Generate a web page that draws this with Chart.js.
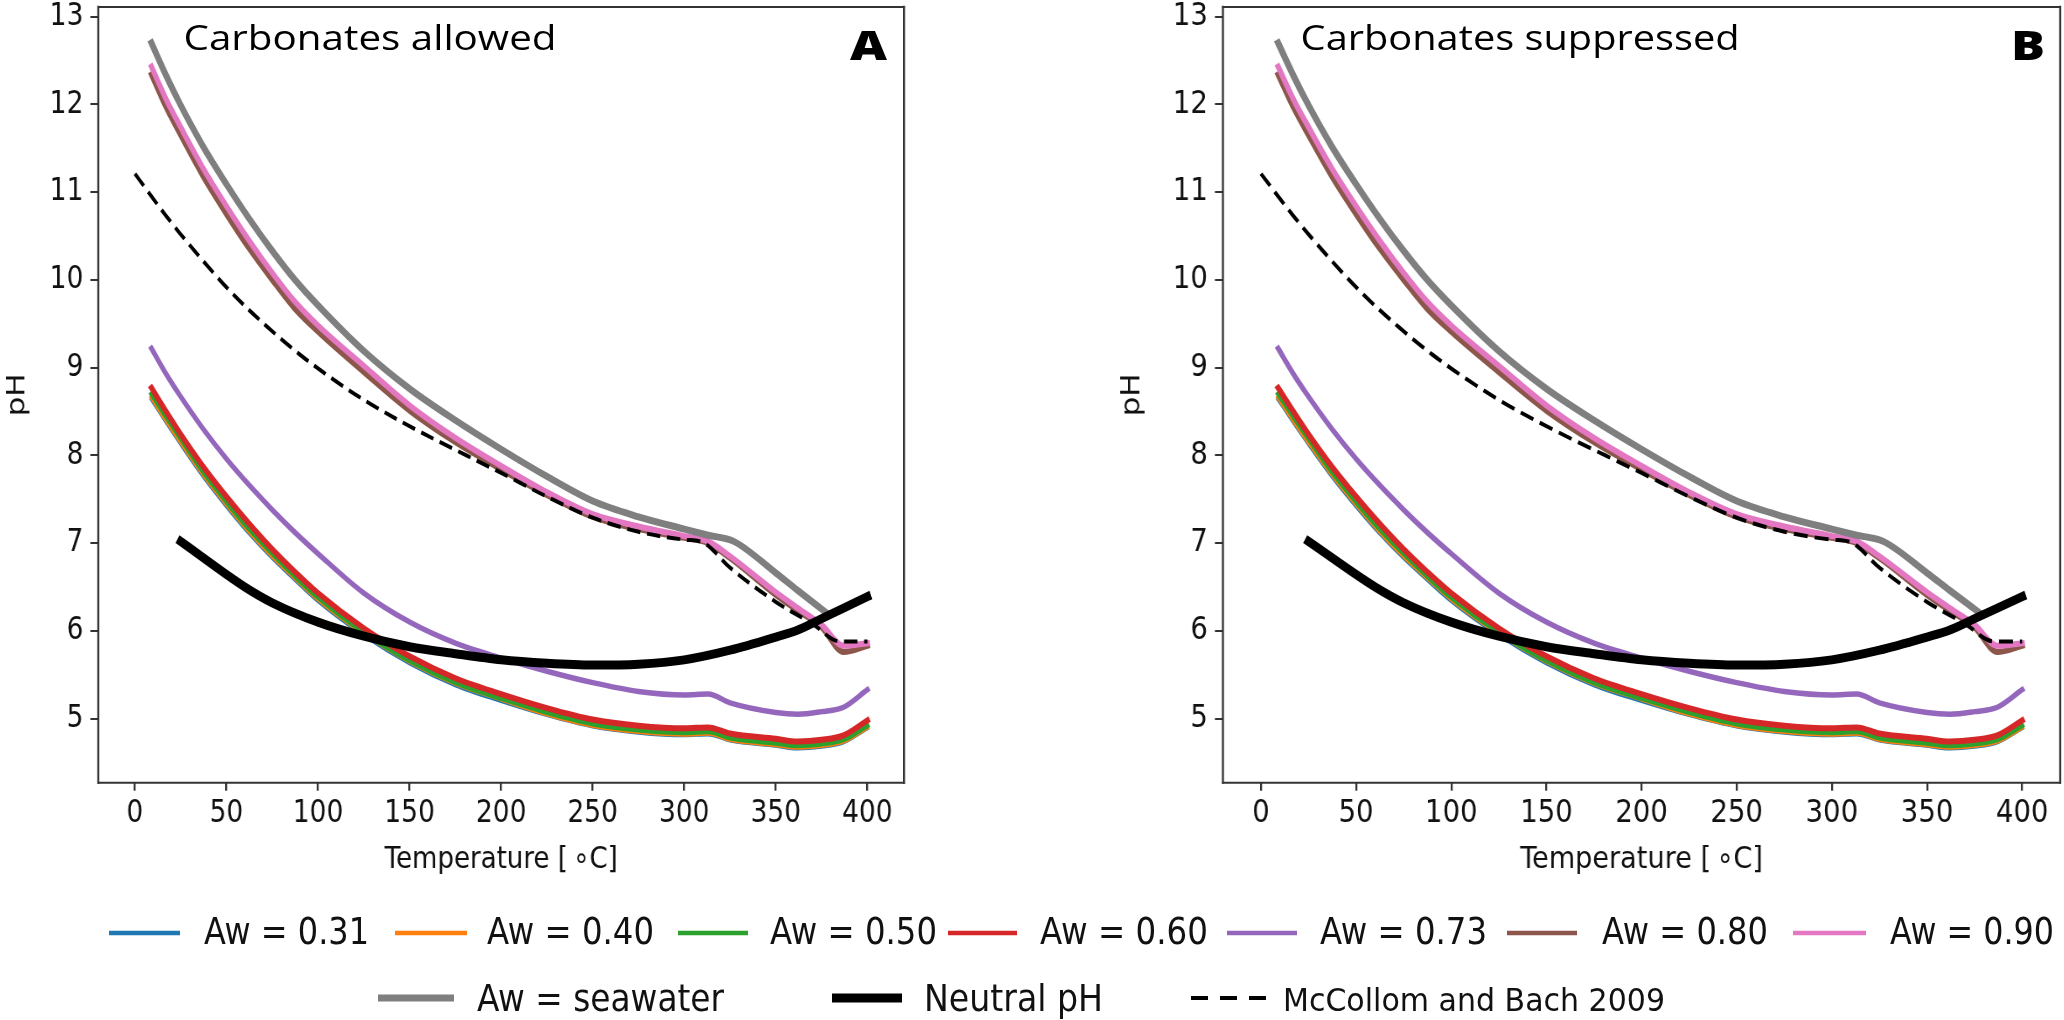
<!DOCTYPE html>
<html>
<head>
<meta charset="utf-8">
<title>pH vs temperature</title>
<script src="https://cdn.jsdelivr.net/npm/chart.js@4.4.1/dist/chart.umd.min.js"></script>
<style>
    html, body { margin: 0; padding: 0; background: #fff; }
    body { width: 2064px; height: 1020px; position: relative; overflow: hidden; }
    /* the source figure is squeezed sideways, so each panel is drawn wide and scaled back */
    .squash { position: absolute; top: 0; height: 880px; transform-origin: 0 0; }
    #overlay { position: absolute; left: 0; top: 0; pointer-events: none; }
</style>
</head>
<body>
<div class="squash" id="panelA"><canvas></canvas></div>
<div class="squash" id="panelB"><canvas></canvas></div>
<svg id="overlay" width="2064" height="1020" xmlns="http://www.w3.org/2000/svg"></svg>

<script>
// ---- Data (panels A and B plot the same curves) ----
const xTicks = [0, 50, 100, 150, 200, 250, 300, 350, 400];
const yTicks = [5, 6, 7, 8, 9, 10, 11, 12, 13];

const panelTitles = ['Carbonates allowed', 'Carbonates suppressed'];
const panelLetters = ['A', 'B'];

const seriesLabels = ['Aw = 0.31', 'Aw = 0.40', 'Aw = 0.50', 'Aw = 0.60', 'Aw = 0.73',
    'Aw = 0.80', 'Aw = 0.90', 'Aw = seawater', 'Neutral pH', 'McCollom and Bach 2009'];
const seriesColors = ['#1f77b4', '#ff7f0e', '#2ca02c', '#d62728', '#9467bd',
    '#8c564b', '#e377c2', '#7f7f7f', '#000000', '#000000'];

// temperature grid of the Aw runs (deg C)
const tempAw = [9, 17, 25, 37, 50, 62, 75, 87, 100, 125, 150, 175, 200, 225, 250, 275, 300, 313, 325, 350, 362, 375, 387, 400];
const phAw031 = [8.64, 8.38, 8.13, 7.77, 7.42, 7.12, 6.83, 6.59, 6.34, 5.95, 5.63, 5.38, 5.20, 5.04, 4.91, 4.84, 4.81, 4.82, 4.75, 4.69, 4.66, 4.68, 4.73, 4.89];
const phAw040 = [8.66, 8.40, 8.15, 7.79, 7.44, 7.14, 6.85, 6.61, 6.36, 5.97, 5.65, 5.40, 5.22, 5.05, 4.92, 4.85, 4.82, 4.83, 4.76, 4.70, 4.67, 4.69, 4.74, 4.90];
const phAw050 = [8.70, 8.44, 8.19, 7.82, 7.47, 7.17, 6.88, 6.63, 6.38, 5.98, 5.66, 5.41, 5.23, 5.07, 4.94, 4.87, 4.84, 4.85, 4.78, 4.72, 4.69, 4.71, 4.76, 4.92];
const phAw060 = [8.77, 8.50, 8.24, 7.88, 7.53, 7.23, 6.93, 6.68, 6.43, 6.03, 5.71, 5.46, 5.28, 5.12, 4.99, 4.92, 4.89, 4.90, 4.83, 4.77, 4.74, 4.76, 4.81, 4.98];
const phAw073 = [9.22, 8.93, 8.67, 8.31, 7.96, 7.67, 7.38, 7.13, 6.88, 6.43, 6.10, 5.86, 5.69, 5.54, 5.41, 5.31, 5.27, 5.28, 5.18, 5.07, 5.05, 5.08, 5.13, 5.33];
const phAw080 = [12.34, 11.97, 11.65, 11.19, 10.75, 10.37, 10.00, 9.68, 9.41, 8.95, 8.51, 8.15, 7.84, 7.55, 7.30, 7.16, 7.06, 7.00, 6.83, 6.41, 6.23, 6.04, 5.76, 5.83];
const phAw090 = [12.43, 12.06, 11.74, 11.28, 10.84, 10.46, 10.08, 9.76, 9.48, 9.02, 8.57, 8.20, 7.88, 7.58, 7.33, 7.19, 7.08, 7.02, 6.85, 6.44, 6.26, 6.07, 5.83, 5.86];

const tempSea = [9, 17, 25, 37, 50, 62, 75, 87, 100, 125, 150, 175, 200, 225, 250, 275, 300, 313, 327, 350, 362, 378];
const phSea = [12.70, 12.33, 11.99, 11.53, 11.09, 10.71, 10.33, 10.01, 9.71, 9.19, 8.76, 8.40, 8.07, 7.76, 7.48, 7.30, 7.16, 7.09, 7.02, 6.66, 6.46, 6.20];

const tempNeutral = [25, 60, 75, 100, 125, 150, 175, 200, 225, 250, 275, 300, 325, 350, 362, 375, 387, 400];
const phNeutral = [7.02, 6.50, 6.32, 6.10, 5.94, 5.82, 5.74, 5.67, 5.63, 5.61, 5.62, 5.67, 5.78, 5.93, 6.01, 6.14, 6.26, 6.39];

const tempMcB = [0, 17, 35, 53, 72, 90, 108, 126, 145, 163, 181, 200, 225, 250, 275, 300, 310, 325, 350, 370, 385, 400];
const phMcB = [11.21, 10.73, 10.27, 9.85, 9.47, 9.15, 8.87, 8.62, 8.39, 8.19, 8.00, 7.80, 7.53, 7.29, 7.13, 7.04, 7.01, 6.72, 6.33, 6.08, 5.88, 5.88];

const seriesX = [tempAw, tempAw, tempAw, tempAw, tempAw, tempAw, tempAw, tempSea, tempNeutral, tempMcB];
const seriesY = [phAw031, phAw040, phAw050, phAw060, phAw073, phAw080, phAw090, phSea, phNeutral, phMcB];

// ---- Styles / layout ----
const lineWidths = [4, 4.5, 5, 6, 5.5, 6, 6, 7, 9, 4];
const lineDashes = [[], [], [], [], [], [], [], [], [], [16, 8]];

const FONT = '"DejaVu Sans", "Liberation Sans", sans-serif';
const TITLE_FONT = '"Open Sans", Lato, sans-serif';

// css px: where each panel sits, and how much it is squeezed sideways
const PANELS = [
    { id: 'panelA', left: 0, inner: 1119, squash: 0.84, areaLeft: 98.3, areaRight: 904 },
    { id: 'panelB', left: 1113.8, inner: 1087, squash: 0.8745, areaLeft: 1222.7, areaRight: 2060 },
];
const AREA_TOP = 7;
const AREA_BOTTOM = 782.7;
const CANVAS_H = 880;

const spinePlugin = {
    id: 'spines',
    afterDatasetsDraw(chart, args, opts) {
        const { ctx, chartArea: a } = chart;
        ctx.save();
        ctx.strokeStyle = opts.color;
        ctx.lineCap = 'square';
        ctx.beginPath();
        ctx.lineWidth = opts.hWidth;
        ctx.moveTo(a.left, a.top); ctx.lineTo(a.right, a.top);
        ctx.moveTo(a.left, a.bottom); ctx.lineTo(a.right, a.bottom);
        ctx.stroke();
        ctx.beginPath();
        ctx.lineWidth = opts.vWidth;
        ctx.moveTo(a.left, a.top); ctx.lineTo(a.left, a.bottom);
        ctx.moveTo(a.right, a.top); ctx.lineTo(a.right, a.bottom);
        ctx.stroke();
        ctx.restore();
    }
};

function buildDatasets() {
    return seriesLabels.map((label, i) => ({
        label: label,
        data: seriesX[i].map((t, k) => ({ x: t, y: seriesY[i][k] })),
        borderColor: seriesColors[i],
        borderWidth: lineWidths[i],
        borderDash: lineDashes[i],
        borderCapStyle: lineDashes[i].length ? 'butt' : 'square',
        borderJoinStyle: 'round',
        cubicInterpolationMode: 'monotone',
        pointRadius: 0,
        fill: false,
        // matplotlib draws later lines on top
        order: seriesLabels.length - i,
    }));
}

function makePanel(p) {
    const box = document.getElementById(p.id);
    const sx = 1 / p.squash;
    box.style.left = p.left + 'px';
    box.style.width = p.inner + 'px';
    box.style.transform = `scaleX(${p.squash})`;

    const yWidth = (p.areaLeft - p.left) * sx;
    const padRight = p.inner - (p.areaRight - p.left) * sx;

    return new Chart(box.querySelector('canvas'), {
        type: 'line',
        data: { datasets: buildDatasets() },
        options: {
            responsive: true,
            maintainAspectRatio: false,
            animation: false,
            events: [],
            layout: { padding: { top: AREA_TOP, right: padRight, bottom: 0, left: 0 } },
            plugins: {
                legend: { display: false },
                tooltip: { enabled: false },
                spines: { color: '#333', hWidth: 2, vWidth: 2 * sx },
            },
            scales: {
                x: {
                    type: 'linear',
                    min: -20,
                    max: 420,
                    afterBuildTicks: (s) => { s.ticks = xTicks.map(v => ({ value: v })); },
                    afterFit: (s) => { s.height = CANVAS_H - AREA_BOTTOM; s.paddingLeft = 0; s.paddingRight = 0; },
                    border: { display: false },
                    grid: { drawOnChartArea: false, drawTicks: true, tickLength: 8, lineWidth: 2 * sx, color: '#333' },
                    ticks: { autoSkip: false, maxRotation: 0, minRotation: 0, padding: 4, color: '#111',
                        font: { family: FONT, size: 31.5 } },
                    title: { display: true, text: 'Temperature [\u2009\u2218C]', color: '#111',
                        font: { family: FONT, size: 31 }, padding: { top: 0, bottom: 1.4 } },
                },
                y: {
                    type: 'linear',
                    min: 4.27,
                    max: 13.11,
                    afterBuildTicks: (s) => { s.ticks = yTicks.map(v => ({ value: v })); },
                    afterFit: (s) => { s.width = yWidth; s.paddingTop = 0; s.paddingBottom = 0; },
                    border: { display: false },
                    grid: { drawOnChartArea: false, drawTicks: true, tickLength: 8 * sx, lineWidth: 2, color: '#333' },
                    ticks: { padding: 7 * sx, color: '#111', font: { family: FONT, size: 31.5 } },
                    title: { display: true, text: 'pH', color: '#111',
                        font: { family: FONT, size: 31 }, padding: { top: 2.8, bottom: 0 } },
                },
            },
        },
        plugins: [spinePlugin],
    });
}

// ---- Panel titles, letters and the shared legend (SVG text) ----
const TITLE_SLOTS = [
    { x: 183.5, y: 50, w: 373, size: 35 },
    { x: 1300.6, y: 50, w: 439, size: 35 },
];
const LETTER_SLOTS = [
    { x: 850, y: 60, w: 37, size: 40 },
    { x: 2011, y: 60, w: 34, size: 40 },
];
const LEGEND_SLOTS = [
    { x1: 109, x2: 180, tx: 204, tw: 165, row: 0 },
    { x1: 395, x2: 467, tx: 487, tw: 167, row: 0 },
    { x1: 678, x2: 748, tx: 770, tw: 167, row: 0 },
    { x1: 948, x2: 1017, tx: 1040, tw: 168, row: 0 },
    { x1: 1227, x2: 1297, tx: 1320, tw: 167, row: 0 },
    { x1: 1507, x2: 1577, tx: 1602, tw: 166, row: 0 },
    { x1: 1793, x2: 1866, tx: 1890, tw: 164, row: 0 },
    { x1: 378, x2: 454, tx: 477, tw: 247, row: 1 },
    { x1: 832, x2: 902, tx: 924, tw: 179, row: 1 },
    { x1: 1191, x2: 1266, tx: 1283, tw: 382, row: 1, size: 31.5 },
];
const LEGEND_ROWS = [{ lineY: 933, baseY: 943.5, size: 36.6 }, { lineY: 998, baseY: 1011, size: 36.6 }];
const legendWidths = [4.5, 4.5, 4.5, 4.5, 4.5, 4.5, 4.5, 7, 9, 4];
const legendDashes = ['', '', '', '', '', '', '', '', '', '17 12'];

const svg = document.getElementById('overlay');
const NS = 'http://www.w3.org/2000/svg';

function svgEl(tag, attrs, text) {
    const el = document.createElementNS(NS, tag);
    Object.entries(attrs).forEach(([k, v]) => el.setAttribute(k, v));
    if (text !== undefined) el.textContent = text;
    svg.appendChild(el);
    return el;
}

function drawOverlay() {
    panelTitles.forEach((t, i) => {
        const s = TITLE_SLOTS[i];
        svgEl('text', { x: s.x, y: s.y, 'font-family': TITLE_FONT, 'font-size': s.size, fill: '#000',
            textLength: s.w, lengthAdjust: 'spacingAndGlyphs' }, t);
    });
    panelLetters.forEach((t, i) => {
        const s = LETTER_SLOTS[i];
        svgEl('text', { x: s.x, y: s.y, 'font-family': TITLE_FONT, 'font-size': s.size, 'font-weight': 800,
            fill: '#000', textLength: s.w, lengthAdjust: 'spacingAndGlyphs' }, t);
    });
    seriesLabels.forEach((label, i) => {
        const s = LEGEND_SLOTS[i];
        const row = LEGEND_ROWS[s.row];
        const line = { x1: s.x1, x2: s.x2, y1: row.lineY, y2: row.lineY,
            stroke: seriesColors[i], 'stroke-width': legendWidths[i] };
        if (legendDashes[i]) line['stroke-dasharray'] = legendDashes[i];
        svgEl('line', line);
        svgEl('text', { x: s.tx, y: row.baseY, 'font-family': FONT, 'font-size': s.size || row.size,
            fill: '#111', textLength: s.tw, lengthAdjust: 'spacingAndGlyphs' }, label);
    });
}

PANELS.forEach(makePanel);
drawOverlay();
</script>
</body>
</html>
